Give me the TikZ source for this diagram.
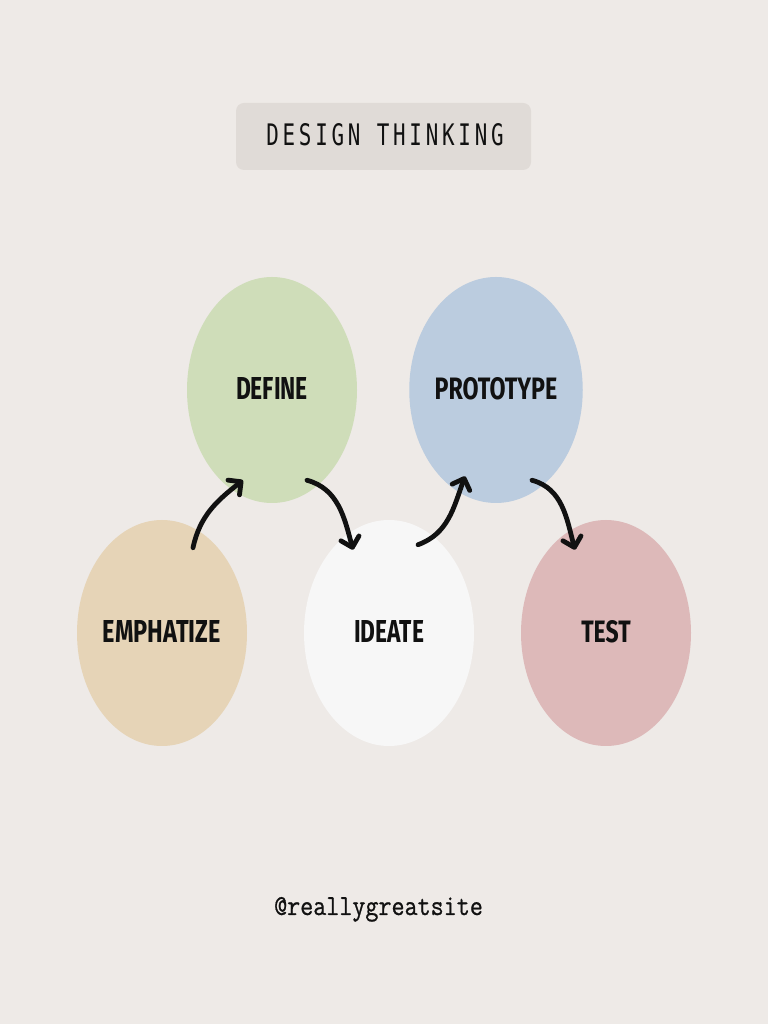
\documentclass[tikz,border=0pt]{standalone}
\usepackage{fontspec}
\usepackage{graphicx}
\usepackage{tikz}
\usetikzlibrary{positioning, shapes.geometric, arrows.meta}
\usepackage{xcolor}

\newfontfamily\handfont{Fira Sans}
\newfontfamily\titlefont[LetterSpace=18]{DejaVu Sans Mono}
\newfontfamily\handlefont[AutoFakeBold=0.8]{Latin Modern Mono}

\definecolor{paper}{HTML}{EEEAE7}
\definecolor{titlegray}{HTML}{E0DBD7}
\definecolor{definegreen}{HTML}{CFDDB9}
\definecolor{protoblue}{HTML}{BBCCDF}
\definecolor{emphtan}{HTML}{E6D4B7}
\definecolor{ideatewhite}{HTML}{F7F7F7}
\definecolor{testpink}{HTML}{DDB9B9}
\definecolor{ink}{HTML}{111111}

% label squeezed to a given width
\newcommand{\steplabel}[2]{\raisebox{2pt}{\resizebox{#1}{16.5pt}{\handfont\bfseries #2}}}

\begin{document}
\begin{tikzpicture}[
                  x=0.75pt, y=0.75pt,
                  every node/.style={text=ink},
                  stage/.style={ellipse, minimum width=127.5pt, minimum height=169.5pt, inner sep=0pt},
                  header/.style={rectangle, rounded corners=6pt, fill=titlegray, minimum width=221.25pt, minimum height=50.25pt},
                  flow/.style={draw=ink, line width=3.6pt, line cap=round, -{Straight Barb[length=7pt, width=14pt, round]}}
            ]

            % Background
            \fill[paper] (0,0) rectangle (768,1024);

            % Title
            \node (title) [header] at (383.5,887.5) {};
            \node (titletext) at (385,889) {\resizebox{178pt}{16.5pt}{\titlefont DESIGN THINKING}};

            % Stages
            \node (define) [stage, fill=definegreen] at (272,634) {\steplabel{54pt}{DEFINE}};
            \node (prototype) [stage, fill=protoblue] at (496,634) {\steplabel{92pt}{PROTOTYPE}};
            \node (emphatize) [stage, fill=emphtan] at (162,391) {\steplabel{88.5pt}{EMPHATIZE}};
            \node (ideate) [stage, fill=ideatewhite] at (389,391) {\steplabel{52.5pt}{IDEATE}};
            \node (test) [stage, fill=testpink] at (606,391) {\steplabel{37pt}{TEST}};

            % Arrows
            \draw [flow] ([shift={(31,-28)}]emphatize.north) to[out=78, in=218] ([shift={(-29,23)}]define.south);
            \draw [flow] ([shift={(35,23)}]define.south) to[out=-15, in=105] ([shift={(-36,-30)}]ideate.north);
            \draw [flow] ([shift={(29,-25)}]ideate.north) to[out=20, in=250] ([shift={(-31,27)}]prototype.south);
            \draw [flow] ([shift={(36,23)}]prototype.south) to[out=-15, in=105] ([shift={(-31,-30)}]test.north);

            % Footer
            \node (handle) [anchor=base] at (378.5,109) {\scalebox{1}[1.15]{\fontsize{19}{23}\selectfont\handlefont\bfseries @reallygreatsite}};

      \end{tikzpicture}
\end{document}
